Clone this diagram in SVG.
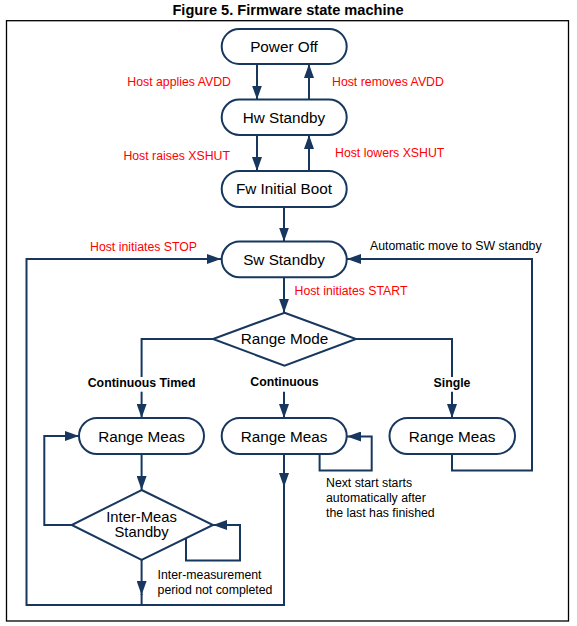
<svg xmlns="http://www.w3.org/2000/svg" width="577" height="626" viewBox="0 0 577 626">
<defs>
<style>
.node{fill:#fff;stroke:#17375e;stroke-width:2}
.nt{font-family:"Liberation Sans",Arial,sans-serif;font-size:15.3px;fill:#000;text-anchor:middle}
.red{font-family:"Liberation Sans",Arial,sans-serif;font-size:12.3px;fill:#ff0000}
.note{font-family:"Liberation Sans",Arial,sans-serif;font-size:12.3px;fill:#000}
.bold{font-family:"Liberation Sans",Arial,sans-serif;font-size:12.3px;font-weight:bold;fill:#000;text-anchor:middle}
.c{fill:none;stroke:#17375e;stroke-width:2;marker-end:url(#arr)}
.cn{fill:none;stroke:#17375e;stroke-width:2}
</style>
<marker id="arr" markerUnits="userSpaceOnUse" markerWidth="14" markerHeight="10" refX="14" refY="5" orient="auto" viewBox="0 0 14 10">
<path d="M0,0 L14,5 L0,10 z" fill="#17375e"/>
</marker>
</defs>
<rect width="577" height="626" fill="#fff"/>
<text x="288" y="15" font-family="'Liberation Sans',Arial,sans-serif" font-size="14.6" font-weight="bold" text-anchor="middle">Figure 5. Firmware state machine</text>
<rect x="6.5" y="20.7" width="562" height="600.3" fill="none" stroke="#000" stroke-width="1.3"/>

<g id="connectors">
<path class="c" d="M257,64 V99.5"/>
<path class="c" d="M309,99.5 V64"/>
<path class="c" d="M257,135 V171"/>
<path class="c" d="M309,171 V135"/>
<path class="c" d="M284,207 V241.5"/>
<path class="c" d="M284,277.3 V312.7"/>
<path class="cn" d="M213,339 H141.6 V377"/>
<path class="c" d="M141.6,391.7 V418"/>
<path class="c" d="M284,391.7 V418"/>
<path class="cn" d="M356,339 H452 V377"/>
<path class="c" d="M452,391.7 V418"/>
<path class="c" d="M141.6,454 V490"/>
<path class="c" d="M71.7,525 H44.3 V436 H79"/>
<path class="c" d="M186,538.2 V560.5 H240 V525 H213"/>
<path class="c" d="M141.6,560 V595"/>
<path class="cn" d="M141.6,594 V605"/>
<path class="c" d="M284,454 V487"/>
<path class="c" d="M284,486 V605 H26.5 V259 H221"/>
<path class="c" d="M319.6,454 V470.5 H371.7 V436.5 H347"/>
<path class="c" d="M452,454 V470.5 H532 V259 H347"/>
</g>

<g id="power-off">
<rect class="node" x="221.7" y="29" width="125" height="35" rx="17.5"/>
<text class="nt" x="284" y="51.5">Power Off</text>
</g>
<g id="hw-standby">
<rect class="node" x="221.7" y="99.5" width="125" height="35.5" rx="17.7"/>
<text class="nt" x="284" y="122.5">Hw Standby</text>
</g>
<g id="fw-initial-boot">
<rect class="node" x="221.7" y="171" width="125" height="36" rx="18"/>
<text class="nt" x="284" y="194">Fw Initial Boot</text>
</g>
<g id="sw-standby">
<rect class="node" x="221.7" y="241.5" width="125" height="35.8" rx="17.9"/>
<text class="nt" x="284" y="265">Sw Standby</text>
</g>
<g id="range-mode">
<polygon class="node" points="284.5,312.7 356,339 284.5,365.7 213,339"/>
<text class="nt" x="284.5" y="344">Range Mode</text>
</g>
<g id="range-meas-timed">
<rect class="node" x="79" y="418" width="125" height="36" rx="18"/>
<text class="nt" x="141.6" y="442">Range Meas</text>
</g>
<g id="range-meas-continuous">
<rect class="node" x="221.7" y="418" width="125" height="36" rx="18"/>
<text class="nt" x="284" y="442">Range Meas</text>
</g>
<g id="range-meas-single">
<rect class="node" x="389.5" y="418" width="125.5" height="36" rx="18"/>
<text class="nt" x="452" y="442">Range Meas</text>
</g>
<g id="inter-meas-standby">
<polygon class="node" points="141.6,490 213,525 141.6,560 71.7,525"/>
<text class="nt" x="141.6" y="521.8" style="font-size:14.8px">Inter-Meas</text>
<text class="nt" x="141.6" y="537.2" style="font-size:14.8px">Standby</text>
</g>

<g id="labels">
<text class="red" x="231" y="86" text-anchor="end">Host applies AVDD</text>
<text class="red" x="332" y="86">Host removes AVDD</text>
<text class="red" x="230" y="160" text-anchor="end">Host raises XSHUT</text>
<text class="red" x="335" y="157">Host lowers XSHUT</text>
<text class="red" x="90" y="251">Host initiates STOP</text>
<text class="red" x="294.5" y="295">Host initiates START</text>
<text class="note" x="370" y="250">Automatic move to SW standby</text>
<text class="bold" x="141.6" y="387">Continuous Timed</text>
<text class="bold" x="284.5" y="386">Continuous</text>
<text class="bold" x="452" y="387">Single</text>
<text class="note" x="326" y="487">Next start starts</text>
<text class="note" x="326" y="502">automatically after</text>
<text class="note" x="326" y="516.7">the last has finished</text>
<text class="note" x="157.6" y="579">Inter-measurement</text>
<text class="note" x="157.6" y="594">period not completed</text>
</g>
</svg>
